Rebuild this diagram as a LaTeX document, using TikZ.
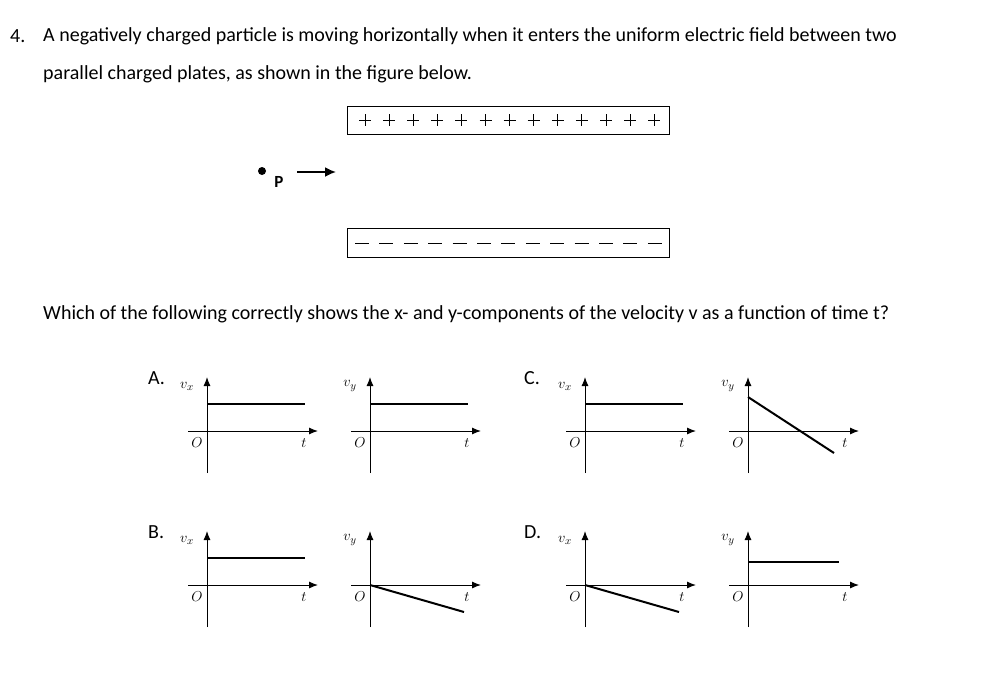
\documentclass[tikz,border=0pt]{standalone}
\usepackage{fontspec}
\setmainfont{Carlito}
\newfontfamily\tms{Liberation Serif}
\usetikzlibrary{arrows.meta}
\begin{document}
\begin{tikzpicture}[x=1pt,y=-1pt,
  txt/.style={anchor=west,inner sep=0,font=\fontsize{20}{24}\selectfont},
  ax/.style={line width=1pt,-{Latex[length=9pt,width=7pt]}},
  gl/.style={line width=2pt},
  lab/.style={inner sep=0,font=\fontsize{15}{16}\selectfont}]
\useasboundingbox (0,0) rectangle (1003,694);
\node[txt] (n4) at (10,36) {4.};
\node[txt] (l1) at (43,36) {A negatively charged particle is moving horizontally when it enters the uniform electric field between two};
\node[txt] (l2) at (43,74) {parallel charged plates, as shown in the figure below.};
\node[txt] (q) at (43,314) {Which of the following correctly shows the x- and y-components of the velocity v as a function of time t?};
% plates
\draw[line width=1pt] (347,106) rectangle (669,134);
\draw[line width=1pt] (347,228) rectangle (669,257);
\foreach \i in {0,...,12}{
  \draw[line width=0.9pt] (365+24.1*\i-6,120)--(365+24.1*\i+6,120) (365+24.1*\i,114)--(365+24.1*\i,126);
  \draw[line width=0.9pt] (362+24.4*\i-7,243)--(362+24.4*\i+7,243);}
\fill (262,171) circle (4);
\node[inner sep=0,font=\bfseries\fontsize{17}{18}\selectfont] (P) at (279,182) {P};
\coordinate (a1) at (297,172); \coordinate (a2) at (336,172);
\draw[line width=1.8pt,-{Latex[length=11pt,width=10pt]}] (a1)--(a2);
% option labels
\node[txt] (A) at (148,378) {A.};
\node[txt] (B) at (148,532) {B.};
\node[txt] (C) at (524,378) {C.};
\node[txt] (D) at (524,532) {D.};
\foreach \ox/\oy/\s/\k in {207/431/x/0,370/431/y/0,585/431/x/0,748/431/y/2,
                           207/585/x/0,370/585/y/1,585/585/x/1,748/585/y/3}{
 \begin{scope}[shift={(\ox,\oy)}]
  \coordinate (o) at (0,0);
  \draw[ax] (0,42)--(0,-54);
  \draw[ax] (-19,0)--(111,0);
  \node[lab] at (-20,-45) {$v_{\s}$};
  \node[lab] at (-10,12) {$O$};
  \node[lab] at (97,12) {$t$};
  \ifcase\k
    \draw[gl] (0,-27)--(98,-27);
  \or
    \draw[gl] (0,0)--(94,27);
  \or
    \draw[gl] (0,-34)--(86,22);
  \or
    \draw[gl] (0,-23)--(91,-23);
  \fi
 \end{scope}}
\end{tikzpicture}
\end{document}
